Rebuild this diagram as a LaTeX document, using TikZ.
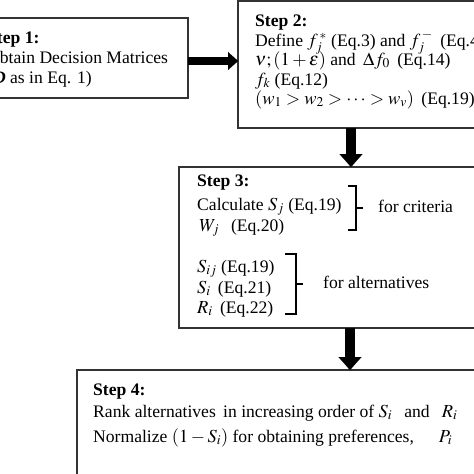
\documentclass[tikz,border=0pt]{standalone}
\usepackage{mathptmx}
\usepackage[no-math]{fontspec}
\setmainfont{Liberation Serif}
\DeclareMathSizes{17.6}{18.4}{13.5}{10.5}
\usetikzlibrary{arrows.meta}
\begin{document}
\begin{tikzpicture}[x=1pt,y=-1pt,
  box/.style={draw=black!80, line width=1.3pt, inner sep=0pt, outer sep=0pt},
  txt/.style={anchor=base west, inner sep=0pt, font=\fontsize{17.6}{20}\selectfont},
  brace/.style={draw=black, line width=1.4pt},
  fatarrowh/.style={line width=8.5pt, -{Triangle[length=10pt,width=18pt,line width=0.1pt]}},
  fatarrowv/.style={line width=10pt, -{Triangle[length=13pt,width=23pt,line width=0.1pt]}}]
\useasboundingbox (0,0) rectangle (474,474);
\fill[white] (0,0) rectangle (474,474);
% boxes
\node[box, minimum width=248pt, minimum height=80pt]  (b1) at (64,58) {};
\node[box, minimum width=282pt, minimum height=127pt] (b2) at (379,64.5) {};
\node[box, minimum width=311pt, minimum height=161pt] (b3) at (334.5,247.5) {};
\node[box, minimum width=413pt, minimum height=130pt] (b4) at (283.5,435) {};
% connectors
\coordinate (a1) at (0,61);
\coordinate (a2) at (351,0);
\coordinate (a3) at (350,0);
\draw[fatarrowh] (b1.east |- a1) -- (b2.west |- a1);
\draw[fatarrowv] (b2.south -| a2) -- (b3.north -| a2);
\draw[fatarrowv] (b3.south -| a3) -- (b4.north -| a3);
% box 1 text
\node[txt] (s1) at (-13,43) {\textbf{Step 1:}};
\node[txt] (s1a) at (-13,63) {Obtain Decision Matrices};
\node[txt] (s1b) at (-13,83) {(\textbf{\textit{D}} as in Eq. 1)};
% box 2 text
\node[txt] (s2) at (255,26) {\textbf{Step 2:}};
\node[txt] (s2a) at (255,46) {Define $f_j^{\,*}$ (Eq.3) and $f_j^{\,-}$\, (Eq.4)};
\node[txt] (s2b) at (255,65) {$\nu;(1+\epsilon)$ and\, $\Delta f_0$\, (Eq.14)};
\node[txt] (s2c) at (255,85) {$f_k$ (Eq.12)};
\node[txt] (s2d) at (255,104) {$(w_1>w_2>\cdots>w_v)$\, (Eq.19)};
% box 3 text
\node[txt] (s3) at (197,186) {\textbf{Step 3:}};
\node[txt] (s3a) at (197,210) {Calculate $S_j$ (Eq.19)};
\node[txt] (s3b) at (199,231) {$W_j$\enspace\,(Eq.20)};
\node[txt] (s3c) at (197,272) {$S_{ij}$ (Eq.19)};
\node[txt] (s3d) at (197,293) {$S_i$\, (Eq.21)};
\node[txt] (s3e) at (197,313) {$R_i$\, (Eq.22)};
\node[txt] (crit) at (378,212) {for criteria};
\node[txt] (alt) at (323,288) {for alternatives};
\draw[brace] (348,186) -- (356,186) -- (356,230) -- (348,230);
\draw[brace] (356,208) -- (363,208);
\draw[brace] (285,254) -- (296,254) -- (296,314) -- (285,314);
\draw[brace] (296,284) -- (303,284);
% box 4 text
\node[txt] (s4) at (93,395) {\textbf{Step 4:}};
\node[txt] (s4a) at (93,417) {Rank alternatives\, in increasing order of $S_i$\;\, and\;\, $R_i$};
\node[txt] (s4b) at (93,442) {Normalize $(1-S_i)$ for obtaining preferences,\quad\, $P_i$};
\end{tikzpicture}
\end{document}
